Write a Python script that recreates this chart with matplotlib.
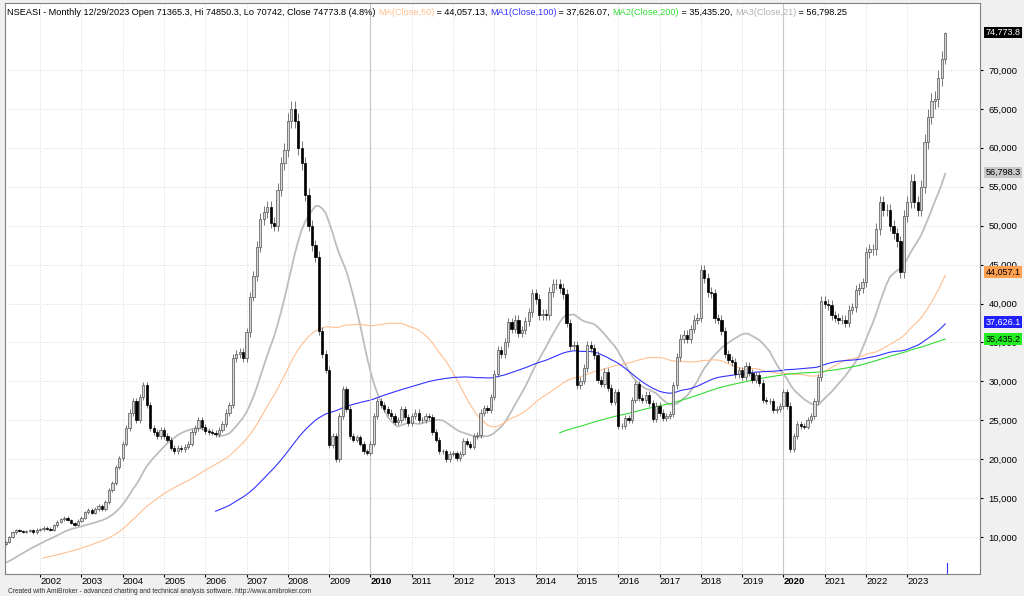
import numpy as np
import matplotlib.pyplot as plt

plt.rcParams['font.family'] = ['Liberation Sans', 'DejaVu Sans']

# --- dados mensais (fechamento), jan/1998 .. dez/2023 ---
fech = {
    1998: [6440, 6500, 6600, 6700, 6500, 6300, 6100, 6000, 5900, 5800, 5750, 5670],
    1999: [5600, 5550, 5500, 5450, 5400, 5500, 5600, 5500, 5400, 5300, 5250, 5270],
    2000: [5500, 5800, 6000, 6300, 6500, 6600, 6800, 7000, 7300, 7500, 7800, 8100],
    2001: [8800, 9100, 9400, 10000, 10600, 10900, 10800, 10700, 10800, 10900, 10600, 10960],
    2002: [11000, 11200, 11100, 10900, 11500, 12000, 12300, 12500, 12200, 11800, 11600, 12100],
    2003: [12500, 13200, 13500, 13100, 13600, 14000, 13600, 14500, 16000, 17000, 19000, 20100],
    2004: [22000, 24000, 26000, 27500, 25000, 28000, 29500, 27000, 24000, 23500, 23000, 23800],
    2005: [23000, 22500, 21500, 21000, 21500, 21300, 21600, 22000, 23500, 24000, 25000, 24100],
    2006: [23600, 23500, 23400, 23200, 23800, 24500, 26000, 27000, 33000, 33500, 33800, 33000],
    2007: [36300, 40900, 43500, 47300, 50800, 51700, 52400, 50400, 50000, 54600, 58000, 59700],
    2008: [63500, 65000, 63500, 60000, 58000, 54000, 50000, 47500, 46000, 36500, 33500, 31500],
    2009: [21800, 23000, 20000, 25500, 29000, 26500, 23000, 22500, 22800, 22000, 21000, 20800],
    2010: [22000, 25500, 27500, 27000, 26500, 26000, 25500, 24800, 25000, 26500, 25400, 24700],
    2011: [25500, 26000, 25000, 25000, 25500, 25400, 23500, 22500, 21000, 21000, 20000, 20700],
    2012: [20800, 20100, 20700, 22400, 22000, 21600, 23000, 23100, 26000, 26600, 26300, 28000],
    2013: [31000, 34000, 33500, 35000, 37600, 36700, 37900, 36200, 36600, 37700, 38900, 41300],
    2014: [40600, 38500, 38700, 38500, 41500, 42500, 42500, 42000, 41200, 37500, 34500, 34700],
    2015: [29500, 30100, 31700, 34700, 34300, 33400, 30200, 29700, 31200, 29200, 27400, 28600],
    2016: [24300, 24300, 25300, 25000, 27600, 29600, 27900, 27600, 28300, 27200, 25200, 26900],
    2017: [26000, 25300, 25500, 25800, 29500, 33100, 35500, 36000, 35400, 36700, 37900, 38200],
    2018: [44300, 43300, 41500, 41300, 38100, 37900, 36500, 33500, 32800, 32500, 30900, 31400],
    2019: [30600, 32000, 31100, 30200, 30800, 29800, 27600, 27500, 27500, 26300, 26500, 26800],
    2020: [28600, 26900, 21300, 23000, 24500, 24300, 24200, 25000, 25500, 27500, 30500, 40300],
    2021: [40000, 39800, 38500, 38200, 37900, 37900, 37500, 39200, 39500, 41700, 42000, 42700],
    2022: [46600, 47000, 47000, 49600, 53000, 52000, 52000, 50000, 49000, 48000, 44000, 51200],
    2023: [53000, 55800, 53000, 52000, 55000, 60800, 64000, 66000, 66300, 69000, 71365, 74773.8],
}
anos = sorted(fech)
close = np.array([v for a in anos for v in fech[a]], dtype=float)
t = np.array([a + m / 12 for a in anos for m in range(12)])
opn = np.concatenate([[close[0]], close[:-1]])
hi = np.maximum(opn, close) * 1.015
lo = np.minimum(opn, close) * 0.985
hi[-1], lo[-1] = 74850.3, 70742

def media(x, n):
    out = np.full(len(x), np.nan)
    c = np.cumsum(x)
    out[n - 1:] = (c[n - 1:] - np.concatenate([[0], c[:-n]])) / n
    return out

ma50 = media(close, 50)
ma100 = media(close, 100)
ma200 = media(close, 200)
ma21 = media(close, 21)

fig = plt.figure(figsize=(10.24, 5.96), dpi=100, facecolor='#f0f0f0')
ax = fig.add_axes([5 / 1024, 22 / 596, 975 / 1024, 571 / 596], facecolor='white')

xmin, xmax = 2001.15, 2024.76
vis = t >= xmin
ax.plot(t, ma21, color='#bdbdbd', lw=1.3)
ax.plot(t, ma50, color='#ffbf8f', lw=0.8)
ax.plot(t, ma100, color='#3333ff', lw=0.8)
ax.plot(t, ma200, color='#33dd33', lw=0.8)

sobe = close >= opn
ax.vlines(t[vis], lo[vis], hi[vis], color='#606060', lw=0.6, zorder=3)
w = 0.055
ax.bar(t[vis & sobe], (close - opn)[vis & sobe], bottom=opn[vis & sobe], width=w,
       color='#d8d8d8', edgecolor='#505050', lw=0.5, zorder=4)
ax.bar(t[vis & ~sobe], (close - opn)[vis & ~sobe], bottom=opn[vis & ~sobe], width=w,
       color='black', edgecolor='black', lw=0.5, zorder=4)

ax.set_xlim(xmin, xmax)
ax.set_ylim(5257, 78600)
yt = np.arange(10000, 75000, 5000)
ax.set_yticks(yt)
ax.yaxis.tick_right()
ax.set_yticklabels([f'{v:,}' for v in yt], fontsize=6.8)
xt = np.arange(2002, 2024)
ax.set_xticks(xt)
ax.set_xticklabels([str(a) for a in xt], fontsize=6.8, ha='left')
for lab in ax.get_xticklabels():
    if lab.get_text() in ('2010', '2020'):
        lab.set_fontweight('bold')
ax.tick_params(axis='x', length=2, pad=0)
ax.tick_params(axis='y', length=2, pad=4)
ax.grid(True, color='#d8d8d8', ls=':', lw=0.7)
for a in (2010, 2020):
    ax.axvline(a, color='#c8c8c8', lw=0.8)
ax.axvline(2023.95, ymax=0.02, color='#3333ff', lw=0.8)
for s in ax.spines.values():
    s.set_color('#808080')
    s.set_linewidth(0.8)

# etiquetas de valor no eixo direito
tags = [(74773.8, '74,773.8', 'black', 'white'),
        (56798.3, '56,798.3', '#c8c8c8', 'black'),
        (44057.1, '44,057.1', '#ffa050', 'black'),
        (37626.1, '37,626.1', '#2020ff', 'white'),
        (35435.2, '35,435.2', '#22ee22', 'black')]
for v, txt, fc, tc in tags:
    ax.annotate(txt, xy=(1.0, v), xycoords=('axes fraction', 'data'), xytext=(4, 0),
                textcoords='offset points', va='center', ha='left', fontsize=6.5, color=tc,
                bbox=dict(boxstyle='square,pad=0.12', fc=fc, ec='none'), zorder=6,
                annotation_clip=False)

# titulo colorido
partes = [('NSEASI - Monthly 12/29/2023 Open 71365.3, Hi 74850.3, Lo 70742, Close 74773.8 (4.8%) ', 'black'),
          ('MA(Close,50)', '#ffbf8f'), (' = 44,057.13, ', 'black'),
          ('MA1(Close,100)', '#3333ff'), (' = 37,626.07, ', 'black'),
          ('MA2(Close,200)', '#33dd33'), (' = 35,435.20, ', 'black'),
          ('MA3(Close,21)', '#b0b0b0'), (' = 56,798.25', 'black')]
prev = ax.text(0.002, 0.992, partes[0][0], transform=ax.transAxes, fontsize=6.6,
               va='top', ha='left', color=partes[0][1])
for txt, cor in partes[1:]:
    prev = ax.annotate(txt, xy=(1, 0), xycoords=prev, va='bottom', ha='left',
                       fontsize=6.6, color=cor)

fig.text(8 / 1024, 1 / 596, 'Created with AmiBroker - advanced charting and technical analysis software. http://www.amibroker.com',
         fontsize=4.8, color='#303030', va='bottom')

fig.savefig('out.png', dpi=100, facecolor=fig.get_facecolor())
